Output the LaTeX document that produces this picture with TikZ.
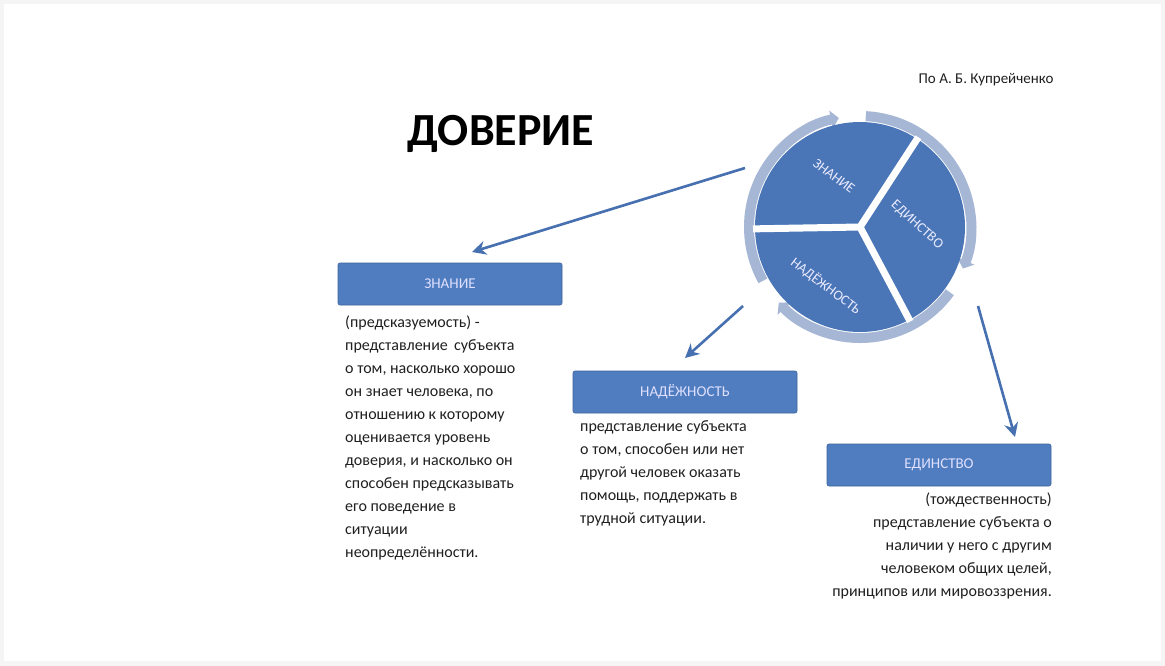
\documentclass[tikz,border=0pt]{standalone}
\usepackage{fontspec}
\setmainfont{Carlito}
\usetikzlibrary{arrows.meta}
\definecolor{boxblue}{HTML}{4F7DC0}
\definecolor{pieblue}{HTML}{4A76B8}
\definecolor{ringc}{HTML}{A6B7D5}
\definecolor{arrc}{HTML}{4670B0}
\definecolor{txt}{HTML}{202020}
\tikzset{
 hdr/.style={draw=boxblue!80!black, line width=0.6pt, fill=boxblue, rounded corners=2pt, minimum width=224pt, minimum height=42pt, text=white!88!blue, font=\fontsize{15}{15}\selectfont, inner sep=0},
 body/.style={text=txt, font=\fontsize{16}{23}\selectfont, inner sep=0},
 conn/.style={draw=arrc, line width=2.6pt, -{Stealth[length=14pt,width=14pt]}},
 ringarr/.style={draw=ringc, line width=10pt, -{Triangle[length=8pt,width=18pt]}},
 pietxt/.style={text=white!92!blue, font=\fontsize{14}{14}\selectfont}
}
\begin{document}
\begin{tikzpicture}[x=1pt,y=-1pt]
\useasboundingbox (0,0) rectangle (1165,665);
\fill[white] (0,0) rectangle (1165,665);
\draw[gray!8, line width=8pt] (0,0) rectangle (1165,665);
% title and author
\node[font=\fontsize{46}{46}\selectfont\bfseries, text=black] (title) at (501,134) {ДОВЕРИЕ};
\node[font=\fontsize{15}{15}\selectfont, text=txt, anchor=east] (author) at (1057,80) {По А. Б. Купрейченко};
% wheel
\coordinate (c) at (860,227);
\draw[ringarr] (c) ++(-87:111) arc[start angle=-87, end angle=22, radius=111];
\draw[ringarr] (c) ++(36:111) arc[start angle=36, end angle=137, radius=111];
\draw[ringarr] (c) ++(151:111) arc[start angle=151, end angle=259, radius=111];
\fill[pieblue] (c) circle[radius=105];
\draw[white, line width=7pt] (c) -- ++(-57:107) (c) -- ++(-181:107) (c) -- ++(62:107);
\node[pietxt, rotate=-37] (pz) at (834,176) {ЗНАНИЕ};
\node[pietxt, rotate=-42] (pe) at (917,225) {ЕДИНСТВО};
\node[pietxt, rotate=-37] (pn) at (826,286) {НАДЁЖНОСТЬ};
% boxes
\node[hdr] (bz) at (450,284) {ЗНАНИЕ};
\node[hdr] (bn) at (685,392) {НАДЁЖНОСТЬ};
\node[hdr] (be) at (939,465) {ЕДИНСТВО};
% texts
\node[body, anchor=north west, align=left] (tz) at (345,316) {(предсказуемость) -\\представление\, субъекта\\о том, насколько хорошо\\он знает человека, по\\отношению к которому\\оценивается уровень\\доверия, и насколько он\\способен предсказывать\\его поведение в\\ситуации\\неопределённости.};
\node[body, anchor=north west, align=left] (tn) at (580,420) {представление субъекта\\о том, способен или нет\\другой человек оказать\\помощь, поддержать в\\трудной ситуации.};
\node[body, anchor=north east, align=right] (te) at (1052,493) {(тождественность)\\представление субъекта о\\наличии у него с другим\\человеком общих целей,\\принципов или мировоззрения.};
% connectors
\coordinate (a1) at (745,168);
\coordinate (a2) at (743,306);
\coordinate (a3) at (978,306);
\coordinate (e1) at (472,252);
\coordinate (e2) at (685,358);
\coordinate (e3) at (1015,437);
\draw[conn] (a1) -- (e1);
\draw[conn] (a2) -- (e2);
\draw[conn] (a3) -- (e3);
\end{tikzpicture}
\end{document}
